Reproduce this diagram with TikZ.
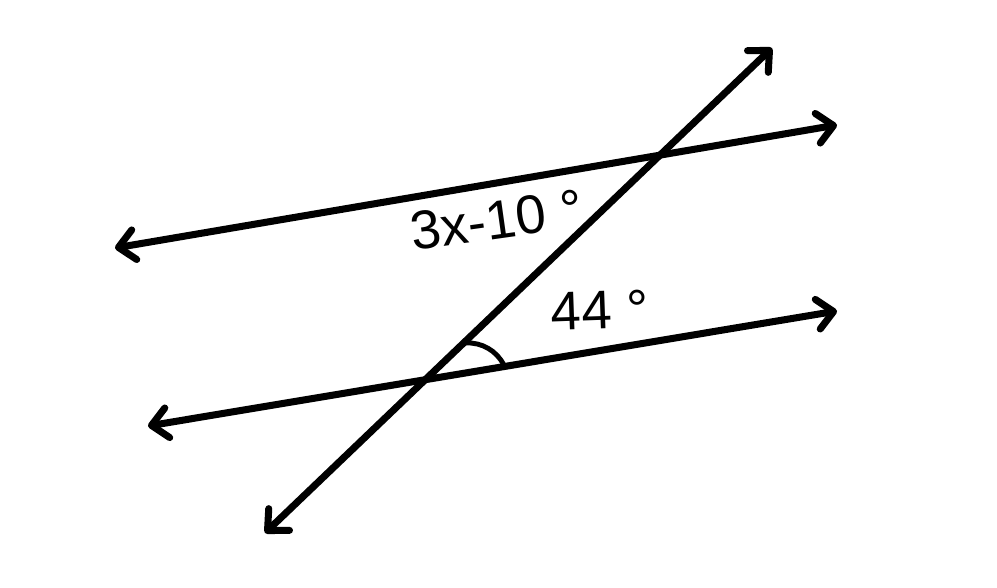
\documentclass[tikz,border=0pt]{standalone}
\usepackage{fontspec}
\setmainfont{Liberation Sans}
\usetikzlibrary{arrows.meta}

\begin{document}
\begin{tikzpicture}[
    line/.style={line width=4pt, line cap=round,
        {Straight Barb[round, length=0.32cm, width=0.6cm]}-{Straight Barb[round, length=0.32cm, width=0.6cm]}},
    anglemark/.style={line width=2.8pt},
    label/.style={font=\fontsize{31}{36}\selectfont, inner sep=0pt}]
            \useasboundingbox (0,0) rectangle (19.94,11.76);

            \coordinate (upL) at (2.30,6.80);
            \coordinate (upR) at (16.74,9.26);
            \coordinate (lowL) at (2.96,3.24);
            \coordinate (lowR) at (16.74,5.54);
            \coordinate (trB) at (5.30,1.10);
            \coordinate (trT) at (15.44,10.80);

            \draw[line] (upL) -- (upR);
            \draw[line] (lowL) -- (lowR);
            \draw[line] (trB) -- (trT);

            \draw[anglemark] (9.32,4.90) arc (93:27:0.8);

            \node[label, rotate=8] (upper) at (9.94,7.36) {3x-10 °};
            \node[label, rotate=2] (lower) at (12.00,5.56) {44 °};

        \end{tikzpicture}
\end{document}
